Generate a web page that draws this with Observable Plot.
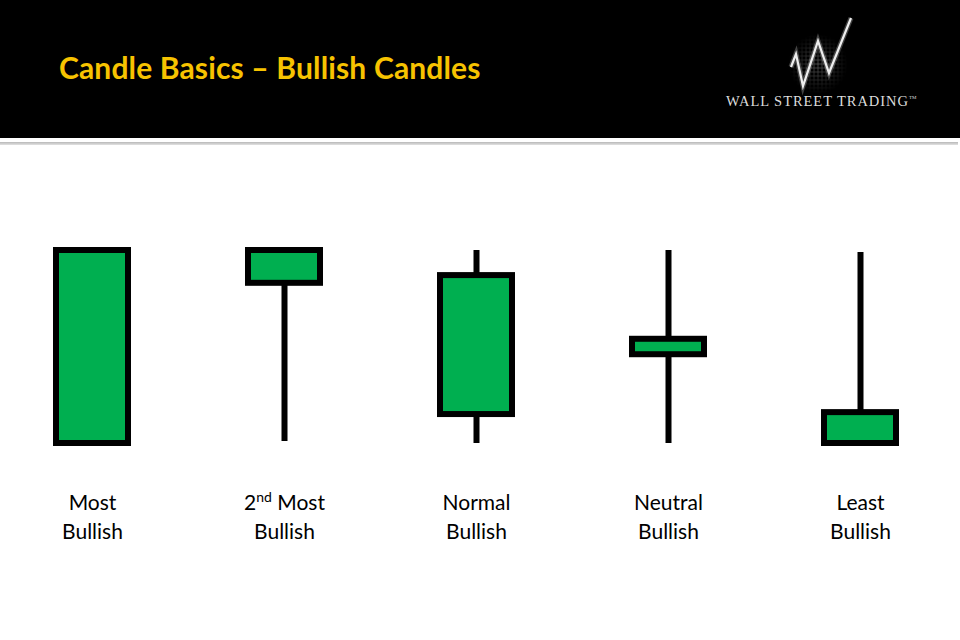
<!DOCTYPE html>
<html>
<head>
<meta charset="utf-8">
<script src="https://cdn.jsdelivr.net/npm/d3@7"></script>
<script src="https://cdn.jsdelivr.net/npm/@observablehq/plot@0.6"></script>
<style>
  html, body { margin: 0; padding: 0; background: #fff; width: 960px; height: 640px; overflow: hidden; }
  #header { position: relative; width: 960px; height: 138px; background: #000; }
  #title { position: absolute; left: 59px; top: 52px; font-family: Lato, sans-serif; font-weight: bold; font-size: 30px; letter-spacing: 0.15px; color: #F7C300; white-space: nowrap; line-height: 1; }
  #logo { position: absolute; left: 0; top: 0; }
  #sep { margin-top: 4px; height: 3px; width: 958px; background: linear-gradient(#b8b8b8, #e2e2e2); }
  #chart { width: 960px; height: 495px; }
</style>
</head>
<body>
<div id="header">
  <div id="title">Candle Basics – Bullish Candles</div>
  <svg id="logo" width="960" height="138"></svg>
</div>
<div id="sep"></div>
<div id="chart"></div>
<script>
// ---- data ----
const names  = ["Most Bullish", "2nd Most Bullish", "Normal Bullish", "Neutral Bullish", "Least Bullish"];
const labels = ["Most\nBullish", "2nd Most\nBullish", "Normal\nBullish", "Neutral\nBullish", "Least\nBullish"];
const open   = [0, 83, 15, 46, 0];
const close  = [100, 100, 87, 54, 16];
const high   = [100, 100, 100, 100, 99];
const low    = [0, 1, 0, 0, 0];

// logo zigzag (decorative)
const logoZig = [[791, 67], [796, 54], [803, 86], [818, 41], [829, 73], [851, 18]];
const logoText = "WALL STREET TRADING";

const candles = names.map((name, i) => ({
  name, label: labels[i], open: open[i], close: close[i], high: high[i], low: low[i]
}));

// ---- logo ----
const logo = d3.select("#logo");
const defs = logo.append("defs");
const rg = defs.append("radialGradient").attr("id", "gridfade");
rg.append("stop").attr("offset", "0%").attr("stop-color", "#fff").attr("stop-opacity", 0.35);
rg.append("stop").attr("offset", "100%").attr("stop-color", "#fff").attr("stop-opacity", 0);
const mask = defs.append("mask").attr("id", "gridmask");
mask.append("rect").attr("x", 788).attr("y", 34).attr("width", 60).attr("height", 60).attr("fill", "url(#gridfade)");
const grid = logo.append("g").attr("mask", "url(#gridmask)").attr("stroke", "#fff").attr("stroke-width", 0.8);
for (let gx = 790; gx <= 846; gx += 4) grid.append("line").attr("x1", gx).attr("x2", gx).attr("y1", 36).attr("y2", 92);
for (let gy = 36; gy <= 92; gy += 4) grid.append("line").attr("x1", 790).attr("x2", 846).attr("y1", gy).attr("y2", gy);
const line = d3.line();
logo.append("path").attr("d", line(logoZig)).attr("fill", "none").attr("stroke", "#fff").attr("stroke-opacity", 0.25).attr("stroke-width", 5).attr("stroke-linejoin", "miter");
logo.append("path").attr("d", line(logoZig)).attr("fill", "none").attr("stroke", "#eee").attr("stroke-width", 2.2).attr("stroke-linejoin", "miter");
logo.append("text").attr("x", 726).attr("y", 106)
  .attr("font-family", "'Liberation Serif', 'DejaVu Serif', serif").attr("font-size", 14.5)
  .attr("fill", "#dcdcdc").attr("textLength", 182).attr("lengthAdjust", "spacing").text(logoText);
logo.append("text").attr("x", 909).attr("y", 99).attr("font-family", "'Liberation Serif', serif")
  .attr("font-size", 5).attr("fill", "#d8d8d8").text("TM");

// ---- chart ----
const chart = Plot.plot({
  width: 960,
  height: 495,
  marginTop: 105,
  marginBottom: 197,
  marginLeft: 56,
  marginRight: 64,
  style: { fontFamily: "Lato, sans-serif", background: "#fff", color: "#000" },
  x: { domain: names, type: "band", paddingInner: 0.625, paddingOuter: 0, axis: null },
  y: { domain: [0, 100], axis: null },
  marks: [
    Plot.ruleX(candles, { x: "name", y1: "low", y2: "high", stroke: "#000", strokeWidth: 6 }),
    Plot.barY(candles, { x: "name", y1: "open", y2: "close", fill: "#00AF50", stroke: "#000", strokeWidth: 6 }),
    Plot.text(candles, {
      x: "name", text: "label", frameAnchor: "bottom", lineAnchor: "top",
      dy: 46, lineHeight: 1.38, fontSize: 21, fill: "#000"
    })
  ]
});
document.getElementById("chart").appendChild(chart);

// superscript "nd"
d3.select(chart).selectAll("tspan").each(function () {
  if (this.textContent === "2nd Most") {
    const t = d3.select(this);
    t.text("");
    t.append("tspan").text("2");
    t.append("tspan").attr("dy", -8).attr("font-size", 14).text("nd");
    t.append("tspan").attr("dy", 8).text(" Most");
  }
});
</script>
</body>
</html>
